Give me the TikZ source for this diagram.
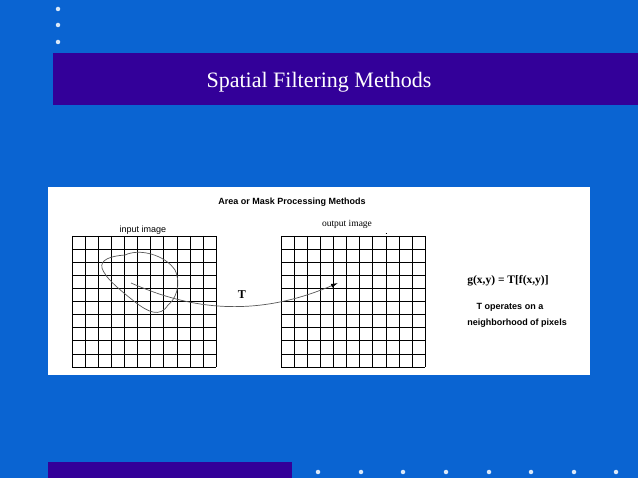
\documentclass[tikz,border=0pt]{standalone}
\usepackage{fontspec}
\setmainfont{Liberation Serif}
\setsansfont{Liberation Sans}
\usetikzlibrary{arrows.meta}
\definecolor{bg}{HTML}{0A64D2}
\definecolor{bar}{HTML}{330099}
\begin{document}
\begin{tikzpicture}[x=1pt,y=-1pt,
  dot/.style={circle,fill=white!85!bg,inner sep=0,minimum size=4.5pt},
  gridl/.style={line width=0.6pt,black}]
\fill[bg] (0,0) rectangle (638,478);
\useasboundingbox (0,0) rectangle (638,478);
\foreach \y [count=\i] in {9,25,42} \node[dot] (td\i) at (58,\y) {};
\foreach \x [count=\i] in {318,361,403,446,489,531,574,616} \node[dot] (bd\i) at (\x,472) {};
\fill[bar] (53,53) rectangle (638,105);
\fill[bar] (48,462) rectangle (292,478);
\node[text=white,font=\fontsize{22}{24}\selectfont] (title) at (319,82) {Spatial Filtering Methods};
\fill[white] (48,187) rectangle (590,375);
\node[font=\sffamily\bfseries\fontsize{9}{10}\selectfont] (sub) at (292,202) {Area or Mask Processing Methods};
\node[font=\sffamily\fontsize{9}{10}\selectfont] (inl) at (143,230) {input image};
\node[font=\fontsize{9.5}{10}\selectfont] (outl) at (347,224) {output image};
\draw[line width=0.4pt] (385.5,233.5) -- (387,233.5);
\foreach \x in {0,...,11} {
  \draw[gridl] (72+\x*13.1,236) -- (72+\x*13.1,367);
  \draw[gridl] (281+\x*13.1,236) -- (281+\x*13.1,367);}
\foreach \y in {0,...,10} {
  \draw[gridl] (72,236+\y*13.1) -- (216,236+\y*13.1);
  \draw[gridl] (281,236+\y*13.1) -- (425,236+\y*13.1);}
\draw[gray!70!black,line width=0.7pt] (125,255) .. controls (140,248) and (165,255) .. (175,270)
  .. controls (182,285) and (175,300) .. (168,305)
  .. controls (160,318) and (148,312) .. (135,302)
  .. controls (120,290) and (105,278) .. (102,268)
  .. controls (100,260) and (110,256) .. (125,255);
\coordinate (s) at (131,283);
\coordinate (e) at (338,283);
\draw[gray!70!black,line width=0.7pt,-{Latex[length=7pt,width=4pt,black]}] (s) .. controls (170,300) and (240,325) .. (e);
\node[font=\bfseries\fontsize{12}{12}\selectfont] (T) at (242,295) {T};
\node[font=\bfseries\fontsize{11.5}{12}\selectfont] (eq) at (508,281) {g(x,y) = T[f(x,y)]};
\node[font=\sffamily\bfseries\fontsize{9}{10}\selectfont] (t1) at (510,307) {T operates on a};
\node[font=\sffamily\bfseries\fontsize{9}{10}\selectfont] (t2) at (517,323) {neighborhood of pixels};
\end{tikzpicture}
\end{document}
